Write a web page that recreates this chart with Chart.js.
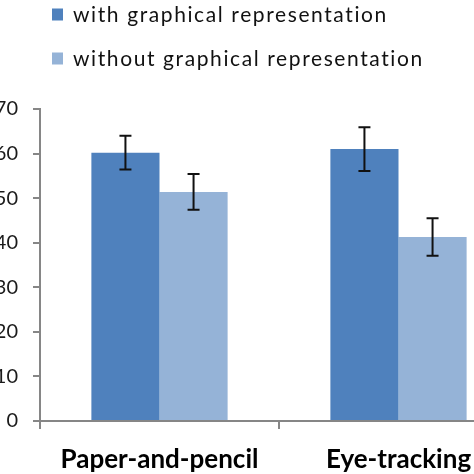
<!DOCTYPE html>
<html>
<head>
<meta charset="utf-8">
<script src="https://cdn.jsdelivr.net/npm/chart.js@4.4.1/dist/chart.umd.min.js"></script>
<style>
html, body { margin: 0; padding: 0; background: #fff; overflow: hidden; }
#wrap { position: relative; width: 474px; height: 474px; overflow: hidden; }
#chart { position: absolute; left: -30px; top: 0; }
</style>
</head>
<body>
<div id="wrap"><canvas id="chart" width="548" height="474"></canvas></div>
<script>
const categories = ['Paper-and-pencil', 'Eye-tracking'];
const seriesNames = ['with graphical representation', 'without graphical representation'];
const withGraph = [60.2, 61.0];
const withGraphErr = [3.8, 4.9];
const withoutGraph = [51.4, 41.3];
const withoutGraphErr = [4.0, 4.2];
const yTicks = [0, 10, 20, 30, 40, 50, 60, 70];

const darkBlue = '#4f81bd';
const lightBlue = '#95b3d7';
const axisGray = '#868686';

// error bars drawn from each dataset's err array
const errorBars = {
    id: 'errorBars',
    afterDatasetsDraw(chart) {
        const ctx = chart.ctx;
        const y = chart.scales.y;
        ctx.save();
        ctx.strokeStyle = '#111';
        ctx.lineWidth = 2;
        chart.data.datasets.forEach((ds, i) => {
            const meta = chart.getDatasetMeta(i);
            meta.data.forEach((bar, j) => {
                const v = ds.data[j], e = ds.err[j];
                const top = y.getPixelForValue(v + e);
                const bot = y.getPixelForValue(v - e);
                const half = 6;
                ctx.beginPath();
                ctx.moveTo(bar.x, top); ctx.lineTo(bar.x, bot);
                ctx.moveTo(bar.x - half, top); ctx.lineTo(bar.x + half, top);
                ctx.moveTo(bar.x - half, bot); ctx.lineTo(bar.x + half, bot);
                ctx.stroke();
            });
        });
        ctx.restore();
    }
};

// stacked legend in the top-left, like the excel original
const stackedLegend = {
    id: 'stackedLegend',
    afterDraw(chart) {
        const ctx = chart.ctx;
        const x0 = chart.chartArea.left + 12;
        const rows = [14.5, 58.5];
        ctx.save();
        ctx.font = '21px Lato';
        ctx.letterSpacing = '1.6px';
        ctx.textBaseline = 'middle';
        chart.data.datasets.forEach((ds, i) => {
            ctx.fillStyle = ds.backgroundColor;
            ctx.fillRect(x0, rows[i] - 6, 11, 12);
            ctx.fillStyle = '#111';
            ctx.fillText(ds.label, x0 + 21, rows[i] + 1);
        });
        ctx.restore();
    }
};

new Chart(document.getElementById('chart'), {
    type: 'bar',
    data: {
        labels: categories,
        datasets: [{
            label: seriesNames[0],
            data: withGraph,
            err: withGraphErr,
            backgroundColor: darkBlue
        }, {
            label: seriesNames[1],
            data: withoutGraph,
            err: withoutGraphErr,
            backgroundColor: lightBlue
        }]
    },
    options: {
        responsive: false,
        animation: false,
        categoryPercentage: 0.57,
        barPercentage: 1,
        layout: { padding: { top: 109, left: 0, right: 0, bottom: 0 } },
        plugins: {
            legend: { display: false },
            tooltip: { enabled: false }
        },
        scales: {
            y: {
                min: yTicks[0],
                max: yTicks[yTicks.length - 1],
                afterBuildTicks: (axis) => { axis.ticks = yTicks.map(v => ({ value: v })); },
                afterFit: (axis) => { axis.width = 70; },
                border: { color: axisGray, width: 2 },
                grid: { drawOnChartArea: false, tickLength: 7, color: axisGray, lineWidth: 2 },
                ticks: { color: '#1a1a1a', padding: 15, font: { family: 'Lato', size: 20 } }
            },
            x: {
                afterFit: (axis) => { axis.height = 53; },
                border: { color: axisGray, width: 2 },
                grid: { offset: true, drawOnChartArea: false, tickLength: 8, color: axisGray, lineWidth: 2 },
                ticks: { color: '#000', padding: 15, font: { family: 'Lato', size: 26, weight: 'bold' } }
            }
        }
    },
    plugins: [errorBars, stackedLegend]
});
</script>
</body>
</html>
